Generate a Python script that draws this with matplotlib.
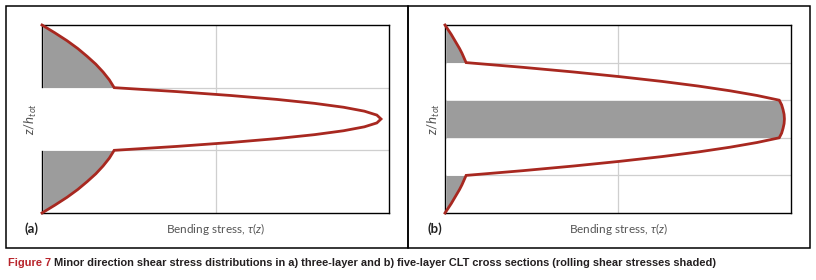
import matplotlib
matplotlib.use("Agg")
import matplotlib.pyplot as plt
from matplotlib.patches import Rectangle

plt.rcParams['mathtext.fontset'] = 'custom'
plt.rcParams['mathtext.rm'] = 'Lato'
plt.rcParams['mathtext.it'] = 'Lato:italic'
plt.rcParams['mathtext.bf'] = 'Lato:bold'

# ---- data ----
# (a) three-layer: z/h_tot (bottom=0, top=1) and normalised stress tau
z_a = [0.0, 1/24, 2/24, 3/24, 4/24, 5/24, 6/24, 7/24, 8/24,
       17/48, 18/48, 19/48, 20/48, 21/48, 22/48, 23/48, 24/48,
       25/48, 26/48, 27/48, 28/48, 29/48, 30/48, 31/48, 32/48,
       17/24, 18/24, 19/24, 20/24, 21/24, 22/24, 23/24, 1.0]
tau_a = [0.0, 0.037, 0.072, 0.103, 0.130, 0.155, 0.176, 0.194, 0.208,
         0.388, 0.544, 0.677, 0.785, 0.869, 0.929, 0.965, 0.977,
         0.965, 0.929, 0.869, 0.785, 0.677, 0.544, 0.388, 0.208,
         0.194, 0.176, 0.155, 0.130, 0.103, 0.072, 0.037, 0.0]
layers_a = [0.0, 1/3, 2/3, 1.0]
shaded_a = [True, False, True]

# (b) five-layer
z_b = [0.0, 0.025, 0.05, 0.075, 0.1, 0.125, 0.15, 0.175, 0.2,
       0.225, 0.25, 0.275, 0.3, 0.325, 0.35, 0.375, 0.4,
       0.425, 0.45, 0.475, 0.5, 0.525, 0.55, 0.575, 0.6,
       0.625, 0.65, 0.675, 0.7, 0.725, 0.75, 0.775, 0.8,
       0.825, 0.85, 0.875, 0.9, 0.925, 0.95, 0.975, 1.0]
tau_b = [0.0, 0.009, 0.018, 0.026, 0.034, 0.042, 0.049, 0.055, 0.061,
         0.224, 0.372, 0.506, 0.627, 0.733, 0.824, 0.902, 0.966,
         0.973, 0.977, 0.980, 0.981, 0.980, 0.977, 0.973, 0.966,
         0.902, 0.824, 0.733, 0.627, 0.506, 0.372, 0.224, 0.061,
         0.055, 0.049, 0.042, 0.034, 0.026, 0.018, 0.009, 0.0]
layers_b = [0.0, 0.2, 0.4, 0.6, 0.8, 1.0]
shaded_b = [True, False, True, False, True]

panel_labels = ['(a)', '(b)']
xlabel_text = r'Bending stress, $\tau$($z$)'
ylabel_text = r'$z/h_{tot}$'
caption_red = 'Figure 7'
caption_rest = (' Minor direction shear stress distributions in a) three-layer and '
                'b) five-layer CLT cross sections (rolling shear stresses shaded)')

# ---- styling ----
W, H = 816, 280
LINE = '#a82820'
GRAY = '#9c9c9c'
GRID = '#cfcfcf'
TXT = '#555555'

fig = plt.figure(figsize=(W / 100, H / 100), dpi=100)
fig.patch.set_facecolor('white')

# outer frames
for x0 in (6, 408):
    fig.patches.append(Rectangle((x0 / W, (H - 248) / H), 402 / W, 242 / H,
                                 transform=fig.transFigure, fill=False,
                                 edgecolor='black', linewidth=1.1))


def px_axes(l, t, r, b):
    return fig.add_axes([l / W, (H - b) / H, (r - l) / W, (b - t) / H])


ax_a = px_axes(42, 25, 389, 213)
ax_b = px_axes(445, 25, 791, 213)


def draw(ax, z, tau, layers, shaded, label, cover_spine):
    ax.set_xlim(0, 1)
    ax.set_ylim(0, 1)
    ax.set_xticks([])
    ax.set_yticks([])
    for s in ax.spines.values():
        s.set_linewidth(1.0)
        s.set_color('black')
        s.set_zorder(2.5)
    ax.axvline(0.5, color=GRID, lw=0.9, zorder=1)
    for yl in layers[1:-1]:
        ax.axhline(yl, color=GRID, lw=0.9, zorder=1)
    for i, sh in enumerate(shaded):
        lo, hi = layers[i], layers[i + 1]
        idx = [k for k, zz in enumerate(z) if lo - 1e-9 <= zz <= hi + 1e-9]
        zz = [z[k] for k in idx]
        tt = [tau[k] for k in idx]
        if sh:
            ax.fill_betweenx(zz, 0.003, tt, color=GRAY, lw=0, zorder=2)
        else:
            x0 = -0.006 if cover_spine else 0.003
            ax.fill_betweenx(zz, x0, tt, color='white', lw=0, zorder=3,
                             clip_on=False)
    ax.plot(tau, z, color=LINE, lw=2.0, zorder=4, clip_on=False,
            solid_joinstyle='miter')
    ax.text(0.5, -0.085, xlabel_text, transform=ax.transAxes, ha='center',
            va='center', fontsize=8.5, color=TXT, family='Lato')
    ax.text(-0.029, -0.085, label, transform=ax.transAxes, ha='center',
            va='center', fontsize=9.5, color='#222222', fontweight='bold',
            family='Lato')
    ax.text(-0.032, 0.5, ylabel_text, transform=ax.transAxes, ha='center',
            va='center', rotation=90, fontsize=9.5, color=TXT, family='Lato')


draw(ax_a, z_a, tau_a, layers_a, shaded_a, panel_labels[0], True)
draw(ax_b, z_b, tau_b, layers_b, shaded_b, panel_labels[1], False)

# caption
cap_family = ['Liberation Sans']
t1 = fig.text(8 / W, 1 - 263 / H, caption_red, fontsize=7.9, fontweight='bold',
              color='#b8242b', family=cap_family, va='center', ha='left')
fig.canvas.draw()
r = fig.canvas.get_renderer()
bb = t1.get_window_extent(renderer=r)
fig.text(bb.x1 / W, 1 - 263 / H, caption_rest, fontsize=7.9, fontweight='bold',
         color='#231f20', family=cap_family, va='center', ha='left')

fig.savefig('out.png', dpi=100, facecolor='white')
